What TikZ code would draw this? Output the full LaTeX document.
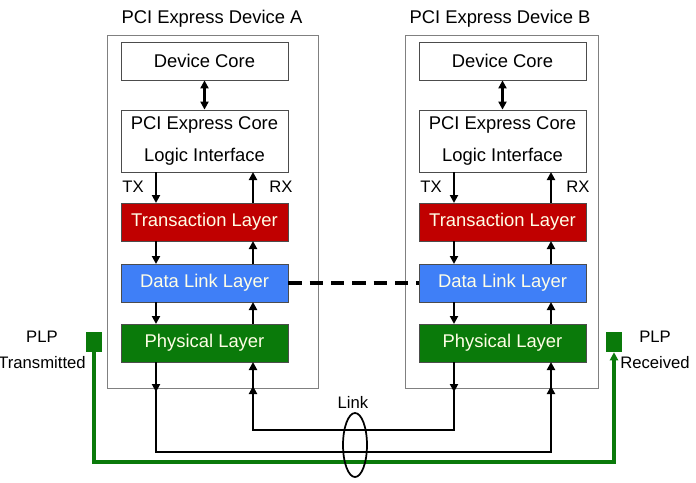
\documentclass[tikz,border=0pt]{standalone}
\usepackage{fontspec}
\setmainfont{Liberation Sans}
\usetikzlibrary{arrows.meta,shapes.geometric}
\definecolor{tlred}{HTML}{C00000}
\definecolor{dlblue}{HTML}{3F7FF7}
\definecolor{phgreen}{HTML}{0A7A0A}
\begin{document}
\begin{tikzpicture}[x=0.75pt,y=-0.75pt,
  box/.style={draw=black!70,line width=0.6pt,minimum width=125.25pt,inner sep=0pt,font=\fontsize{13.8}{16}\selectfont},
  layer/.style={box,minimum height=28.5pt,text=white!90!yellow},
  tip/.style={-{Triangle[length=6pt,width=6pt]}},
  arr/.style={line width=2.2pt,tip},
  wire/.style={line width=2.2pt},
  lbl/.style={font=\fontsize{12.5}{14}\selectfont}]
\useasboundingbox (0,0) rectangle (696,482);
\fill[white] (0,0) rectangle (696,482);
% outer boxes
\draw[black!50,line width=0.6pt] (107,35) rectangle (318,388);
\draw[black!50,line width=0.6pt] (405,35) rectangle (598,388);
\node[font=\fontsize{13.8}{16}\selectfont] (tA) at (212,19) {PCI Express Device A};
\node[font=\fontsize{13.8}{16}\selectfont] (tB) at (500,19) {PCI Express Device B};
% Device A
\node[box,minimum height=28.5pt] (dcA) at (204.5,61) {Device Core};
\node[box,minimum height=46.5pt,align=center] (liA) at (204.5,141) {PCI Express Core\\[8pt]Logic Interface};
\node[layer,fill=tlred] (tlA) at (204.5,222) {Transaction Layer};
\node[layer,fill=dlblue] (dlA) at (204.5,283) {Data Link Layer};
\node[layer,fill=phgreen] (phA) at (204.5,343) {Physical Layer};
% Device B
\node[box,minimum height=28.5pt] (dcB) at (502.5,61) {Device Core};
\node[box,minimum height=46.5pt,align=center] (liB) at (502.5,141) {PCI Express Core\\[8pt]Logic Interface};
\node[layer,fill=tlred] (tlB) at (502.5,222) {Transaction Layer};
\node[layer,fill=dlblue] (dlB) at (502.5,283) {Data Link Layer};
\node[layer,fill=phgreen] (phB) at (502.5,343) {Physical Layer};
\node[lbl] (txA) at (133,187) {TX};
\node[lbl] (rxA) at (281,187) {RX};
\node[lbl] (txB) at (431,187) {TX};
\node[lbl] (rxB) at (578,187) {RX};
% core arrows
\draw[line width=2.2pt,{Triangle[length=6pt,width=6pt]}-{Triangle[length=6pt,width=6pt]}] (dcA.south) -- (liA.north);
\draw[line width=2.2pt,{Triangle[length=6pt,width=6pt]}-{Triangle[length=6pt,width=6pt]}] (dcB.south) -- (liB.north);
% vertical arrows between layers
\foreach \x in {156,454}{
  \draw[arr] (\x,172) -- (\x,203);
  \draw[arr] (\x,241) -- (\x,264);
  \draw[arr] (\x,302) -- (\x,324);
}
\foreach \x in {253,551}{
  \draw[arr] (\x,203) -- (\x,172);
  \draw[arr] (\x,264) -- (\x,241);
  \draw[arr] (\x,324) -- (\x,302);
}
% dashed link
\draw[line width=2.6pt,dash pattern=on 10pt off 6pt] (dlA.east) -- (dlB.west);
% link wires
\coordinate (w1) at (156,452);
\coordinate (w2) at (551,452);
\coordinate (v1) at (253,430);
\coordinate (v2) at (454,430);
\draw[wire] (156,362) -- (w1) -- (w2) -- (551,386);
\draw[wire] (454,362) -- (v2) -- (v1) -- (253,386);
\draw[arr] (156,362) -- (156,392);
\draw[arr] (454,362) -- (454,392);
\draw[arr] (253,392) -- (253,362);
\draw[arr] (551,392) -- (551,362);
\draw[arr] (253,410) -- (253,386);
\draw[arr] (551,410) -- (551,386);
% PLP
\node[fill=phgreen,minimum width=12pt,minimum height=15pt,inner sep=0pt] (pT) at (94,342) {};
\node[fill=phgreen,minimum width=12pt,minimum height=15pt,inner sep=0pt] (pR) at (614,342) {};
\draw[phgreen,line width=2.4pt,tip] (pT.south) -- (94,462) -- (614,462) -- (pR.south);
\node[lbl] (plpT) at (42,337) {PLP};
\node[lbl] (trT) at (42,363) {Transmitted};
\node[lbl] (plpR) at (655,337) {PLP};
\node[lbl] (rcR) at (655,363) {Received};
% link ellipse
\node[draw,line width=1.3pt,ellipse,minimum width=18pt,minimum height=48pt,inner sep=0pt] (el) at (355,445) {};
\node[lbl] (lk) at (353,402) {Link};
\end{tikzpicture}
\end{document}
